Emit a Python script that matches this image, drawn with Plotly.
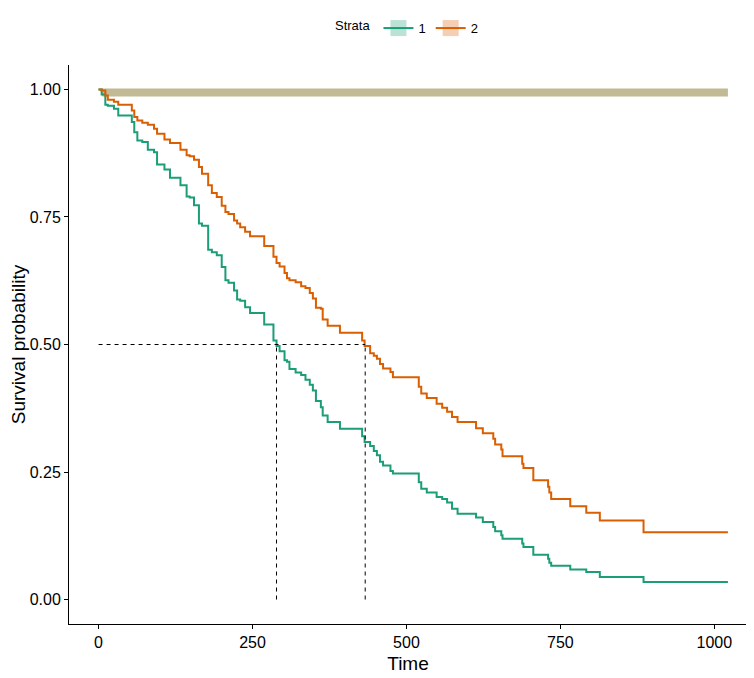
import plotly.graph_objects as go

# step times shared by both strata
time = [0, 5, 11, 15, 25, 32, 54, 58, 63, 71, 80, 90, 95, 107, 116, 133, 143, 148,
        155, 163, 168, 178, 184, 192, 200, 206, 211, 220, 225, 230, 238, 246, 269,
        284, 289, 294, 302, 306, 310, 320, 329, 336, 343, 348, 353, 361, 364, 372,
        392, 428, 432, 441, 447, 452, 457, 462, 474, 478, 520, 524, 533, 549, 558,
        566, 574, 583, 613, 624, 641, 644, 654, 656, 688, 690, 706, 730, 732, 735,
        766, 792, 814, 885, 1022]

surv_1 = [1.0, 0.99, 0.970, 0.968, 0.962, 0.949, 0.936, 0.916, 0.900, 0.897, 0.882,
          0.877, 0.853, 0.843, 0.827, 0.812, 0.790, 0.788, 0.773, 0.737, 0.733, 0.686,
          0.681, 0.675, 0.652, 0.626, 0.621, 0.606, 0.588, 0.586, 0.573, 0.562, 0.539,
          0.508, 0.497, 0.487, 0.469, 0.466, 0.452, 0.445, 0.440, 0.431, 0.421, 0.410,
          0.389, 0.377, 0.361, 0.348, 0.335, 0.320, 0.309, 0.301, 0.291, 0.283, 0.270,
          0.263, 0.252, 0.247, 0.230, 0.217, 0.210, 0.201, 0.197, 0.190, 0.178, 0.168,
          0.161, 0.152, 0.142, 0.134, 0.126, 0.119, 0.110, 0.103, 0.088, 0.080, 0.072,
          0.066, 0.059, 0.054, 0.044, 0.0345, 0.0345]

surv_2 = [1.0, 0.998, 0.988, 0.980, 0.976, 0.970, 0.959, 0.946, 0.939, 0.935, 0.931,
          0.923, 0.913, 0.902, 0.895, 0.882, 0.871, 0.869, 0.862, 0.848, 0.835, 0.812,
          0.797, 0.789, 0.772, 0.760, 0.756, 0.743, 0.737, 0.730, 0.721, 0.712, 0.693,
          0.672, 0.660, 0.653, 0.640, 0.630, 0.626, 0.622, 0.614, 0.611, 0.601, 0.590,
          0.572, 0.570, 0.549, 0.537, 0.523, 0.508, 0.497, 0.483, 0.478, 0.472, 0.462,
          0.453, 0.446, 0.436, 0.417, 0.404, 0.395, 0.384, 0.376, 0.368, 0.358, 0.348,
          0.336, 0.326, 0.315, 0.304, 0.294, 0.281, 0.266, 0.258, 0.234, 0.221, 0.210,
          0.197, 0.183, 0.170, 0.155, 0.132, 0.132]

medians = [289, 433]  # median survival time per stratum
band_x = [5.5, 1022]
band_y = [0.994, 0.994]

strata = ["1", "2"]
colors = ["#1B9E77", "#D95F02"]
fills = ["rgba(27,158,119,0.3)", "rgba(217,95,2,0.3)"]

fig = go.Figure()

# wide beige band near the top
fig.add_scatter(x=band_x, y=band_y, mode="lines", showlegend=False, hoverinfo="skip",
                line=dict(color="#C2B995", width=8))

for name, s, c, f in zip(strata, [surv_1, surv_2], colors, fills):
    fig.add_scatter(x=time, y=s, mode="lines", name=name, line_shape="hv",
                    line=dict(color=c, width=2), showlegend=False)
    # legend-only entry: tinted square key with the line across it
    fig.add_scatter(x=[None], y=[None], mode="lines+markers", name=name,
                    line=dict(color=c, width=2),
                    marker=dict(symbol="square", size=16, color=f, line_width=0))

# median lines
dash = dict(color="black", width=1, dash="4px,4px")
fig.add_scatter(x=[0, max(medians)], y=[0.5, 0.5], mode="lines", line=dash,
                showlegend=False, hoverinfo="skip")
for m in medians:
    fig.add_scatter(x=[m, m], y=[0, 0.5], mode="lines", line=dash,
                    showlegend=False, hoverinfo="skip")

axis_style = dict(showgrid=False, zeroline=False, showline=True, linecolor="black",
                  linewidth=1, ticks="outside", ticklen=4, tickcolor="black",
                  automargin=False,
                  tickfont=dict(size=16, color="black"),
                  title_font=dict(size=19, color="black"))

# the page adds an 8px body margin, so the figure is drawn 8px smaller
fig.update_layout(
    width=746, height=670,
    template="simple_white",
    font=dict(family="Liberation Sans, Arial, sans-serif", color="black"),
    plot_bgcolor="white", paper_bgcolor="white",
    margin=dict(l=61, r=7, t=57, b=54, autoexpand=False),
    xaxis=dict(range=[-48, 1053], tickvals=[0, 250, 500, 750, 1000],
               title=dict(text="Time", standoff=6), **axis_style),
    yaxis=dict(range=[-0.048, 1.048], tickvals=[0, 0.25, 0.5, 0.75, 1.0],
               tickformat=".2f", title=dict(text="Survival probability", standoff=6),
               **axis_style),
    legend=dict(orientation="h", x=0.5, xanchor="center", y=1.066, yanchor="middle",
                title=dict(text="Strata", font=dict(size=13)), font=dict(size=13),
                itemwidth=30, itemsizing="trace"),
)

fig.write_html("out.html")
